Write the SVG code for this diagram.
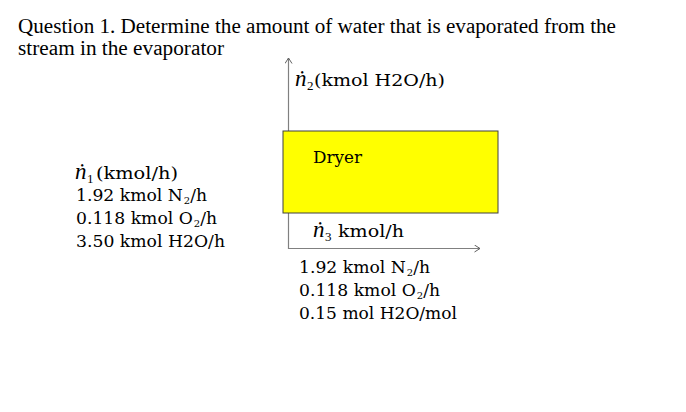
<svg xmlns="http://www.w3.org/2000/svg" width="686" height="412" viewBox="0 0 686 412">
<defs>
<marker id="arr" markerUnits="userSpaceOnUse" markerWidth="10" markerHeight="10" refX="6" refY="4" orient="auto">
<path d="M0.5,0.5 L6,4 L0.5,7.5" fill="none" stroke="#606060" stroke-width="1"/>
</marker>
</defs>
<style>
.t{font-family:"DejaVu Serif","Liberation Serif",serif;font-size:17.2px;fill:#000}
.q{font-family:"Liberation Serif",serif;font-size:20.5px;fill:#000}
.n{font-family:"Liberation Serif",serif;font-style:italic;font-size:23px;fill:#000}
.s{font-family:"Liberation Serif",serif;font-size:13px;fill:#000}
.c{fill:none;stroke:#808080;stroke-width:1.2}
.sub{font-size:10px}
</style>
<rect width="686" height="412" fill="#fff"/>
<g id="title">
<text class="q" x="18" y="33" textLength="598" lengthAdjust="spacingAndGlyphs">Question 1.  Determine the amount of water that is evaporated from the</text>
<text class="q" x="18" y="55" textLength="206" lengthAdjust="spacingAndGlyphs">stream in the evaporator</text>
</g>
<g id="connectors">
<path class="c" d="M288.5,131 V58" marker-end="url(#arr)"/>
<path class="c" d="M288.5,213 V248.5 H480" marker-end="url(#arr)"/>
</g>
<g id="dryer">
<rect x="283" y="131" width="215" height="82" fill="#ffff00" stroke="#404040" stroke-width="1"/>
<text class="t" x="313" y="163" textLength="49" lengthAdjust="spacingAndGlyphs">Dryer</text>
</g>
<g id="stream2">
<text class="n" x="295" y="86">ṅ</text>
<text class="s" x="307" y="90">2</text>
<text class="t" x="314" y="86" textLength="131" lengthAdjust="spacingAndGlyphs">(kmol H2O/h)</text>
</g>
<g id="stream1">
<text class="n" x="75" y="179">ṅ</text>
<text class="s" x="87" y="183">1</text>
<text class="t" x="96" y="179" textLength="82" lengthAdjust="spacingAndGlyphs">(kmol/h)</text>
<text class="t" x="76" y="201">1.92 kmol N<tspan class="sub" dx="1" dy="2.5">2</tspan><tspan dy="-2.5">/h</tspan></text>
<text class="t" x="76" y="224">0.118 kmol O<tspan class="sub" dx="1" dy="2.5">2</tspan><tspan dy="-2.5">/h</tspan></text>
<text class="t" x="76" y="247" textLength="149" lengthAdjust="spacingAndGlyphs">3.50 kmol H2O/h</text>
</g>
<g id="stream3">
<text class="n" x="313" y="237">ṅ</text>
<text class="s" x="325" y="241">3</text>
<text class="t" x="338" y="237" textLength="66" lengthAdjust="spacingAndGlyphs">kmol/h</text>
<text class="t" x="299" y="273">1.92 kmol N<tspan class="sub" dx="1" dy="2.5">2</tspan><tspan dy="-2.5">/h</tspan></text>
<text class="t" x="299" y="296">0.118 kmol O<tspan class="sub" dx="1" dy="2.5">2</tspan><tspan dy="-2.5">/h</tspan></text>
<text class="t" x="299" y="319" textLength="158" lengthAdjust="spacingAndGlyphs">0.15 mol H2O/mol</text>
</g>
</svg>
